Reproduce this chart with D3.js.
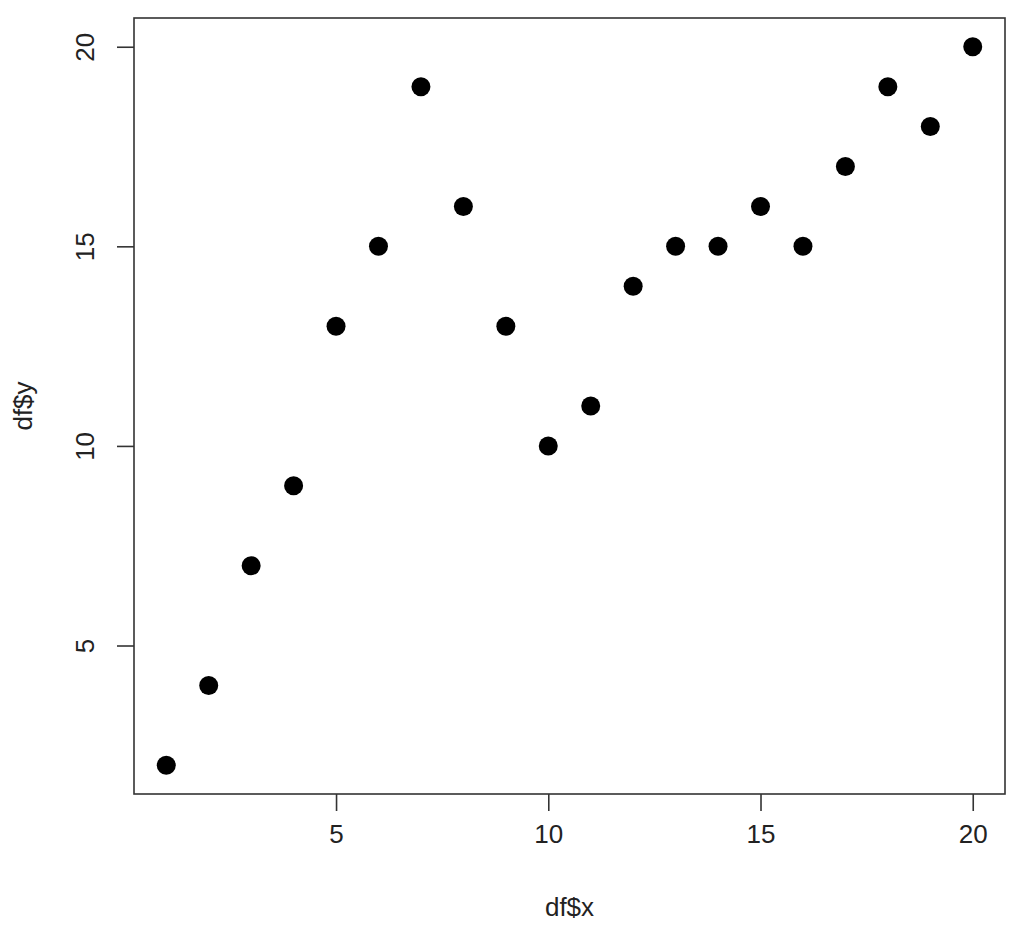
<!DOCTYPE html>
<html><head><meta charset="utf-8">
<script src="https://cdn.jsdelivr.net/npm/d3@7"></script>
<style>body{margin:0;background:#fff}svg{display:block}text{font-family:"Liberation Sans",Arial,sans-serif;fill:#222}</style>
</head><body>
<script>
const xValues = [1,2,3,4,5,6,7,8,9,10,11,12,13,14,15,16,17,18,19,20];
const yValues = [2,4,7,9,13,15,19,16,13,10,11,14,15,15,16,15,17,19,18,20];
const xTicks = [5,10,15,20];
const yTicks = [5,10,15,20];
const xTitle = "df$x", yTitle = "df$y";

const W = 1024, H = 938;
const L = 134, R = 1005, T = 18, B = 794;
const svg = d3.select("body").append("svg").attr("width", W).attr("height", H);

const x = d3.scaleLinear().domain([0.24, 20.76]).range([L, R]);
const y = d3.scaleLinear().domain([1.28, 20.72]).range([B, T]);

svg.append("rect").attr("x", L).attr("y", T).attr("width", R - L).attr("height", B - T)
  .attr("fill", "none").attr("stroke", "#333").attr("stroke-width", 1.6);

const fs = 26;
const gx = svg.append("g").attr("transform", `translate(0,${B})`)
  .call(d3.axisBottom(x).tickValues(xTicks).tickSize(17).tickPadding(14).tickFormat(d3.format("d")));
gx.select(".domain").remove();
gx.selectAll("line").attr("stroke", "#333").attr("stroke-width", 1.6);
gx.selectAll("text").attr("font-size", fs).attr("fill", "#222").attr("font-family", "Liberation Sans, Arial, sans-serif");

const gy = svg.append("g").attr("transform", `translate(${L},0)`)
  .call(d3.axisLeft(y).tickValues(yTicks).tickSize(17).tickFormat(d3.format("d")));
gy.select(".domain").remove();
gy.selectAll("line").attr("stroke", "#333").attr("stroke-width", 1.6);
gy.selectAll("text").attr("font-size", fs).attr("fill", "#222").attr("font-family", "Liberation Sans, Arial, sans-serif")
  .attr("text-anchor", "middle").attr("dy", null).attr("x", null)
  .attr("transform", "translate(-49,0) rotate(-90)").attr("dominant-baseline", "central");

svg.append("text").attr("x", (L + R) / 2).attr("y", 907).attr("text-anchor", "middle")
  .attr("dominant-baseline", "central").attr("font-size", fs).text(xTitle);
svg.append("text").attr("transform", `translate(23,${(T + B) / 2}) rotate(-90)`).attr("text-anchor", "middle")
  .attr("dominant-baseline", "central").attr("font-size", fs).text(yTitle);

svg.append("g").selectAll("circle").data(xValues).join("circle")
  .attr("cx", d => x(d)).attr("cy", (d, i) => y(yValues[i])).attr("r", 9.5).attr("fill", "#000");
</script>
</body></html>
